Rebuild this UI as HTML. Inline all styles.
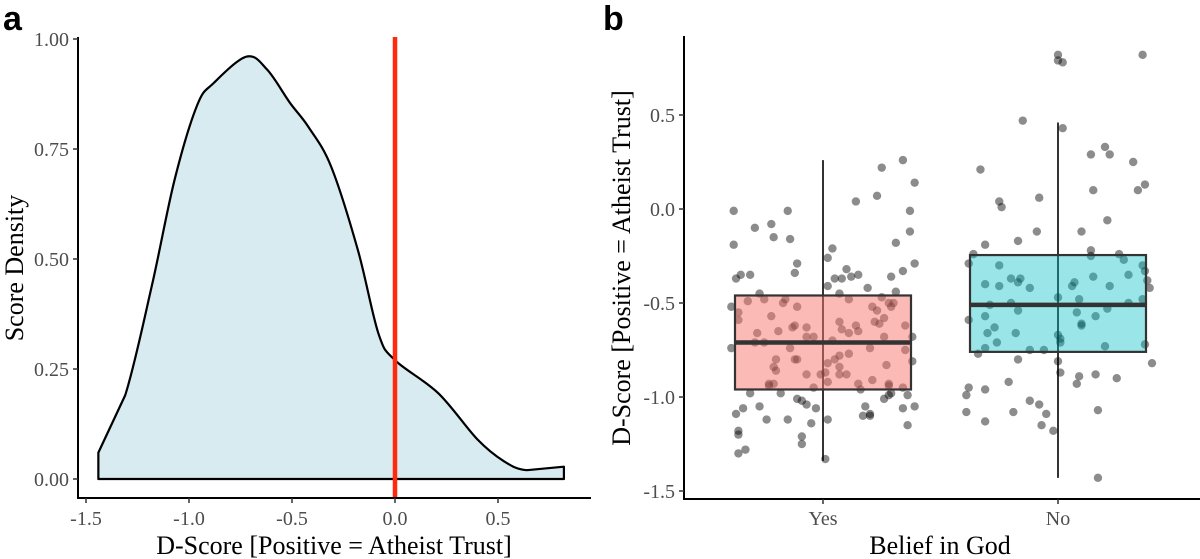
<!DOCTYPE html>
<html><head><meta charset="utf-8"><style>
html,body{margin:0;padding:0;background:#fff}
svg{display:block;font-family:"Liberation Serif",serif}
.tick{font-size:20px;fill:#4d4d4d}
.title{font-size:26px;fill:#000}
.panel{font-family:"Liberation Sans",sans-serif;font-weight:bold;font-size:34px;fill:#000}
</style></head><body>
<svg id="chart" width="1200" height="559" viewBox="0 0 1200 559" xmlns="http://www.w3.org/2000/svg">
<text class="panel" x="3" y="30">a</text>
<text class="panel" x="603" y="30">b</text>
<g id="pa"></g>
<g id="pb"></g>
</svg>
<script>
// Panel a data
const densX=[-1.44,-1.44,-1.31,-1.18,-1.07,-0.96,-0.88,-0.72,-0.62,-0.51,-0.42,-0.31,-0.18,-0.08,0,0.21,0.4,0.53,0.64,0.82,0.82];
const densY=[0,0.06,0.19,0.44,0.68,0.85,0.9,0.96,0.93,0.855,0.8,0.71,0.52,0.33,0.27,0.195,0.09,0.04,0.02,0.028,0];
const aXTicks=[-1.5,-1.0,-0.5,0.0,0.5];
const aXTickLabels=["-1.5","-1.0","-0.5","0.0","0.5"];
const aYTicks=[0,0.25,0.5,0.75,1];
const aYTickLabels=["0.00","0.25","0.50","0.75","1.00"];
const refLine=[0];
// Panel b data
const categories=["Yes","No"];
const boxQ1=[-0.96,-0.76];
const boxMed=[-0.71,-0.51];
const boxQ3=[-0.46,-0.245];
const whiskLo=[-1.34,-1.43];
const whiskHi=[0.26,0.46];
const bYTicks=[-1.5,-1.0,-0.5,0.0,0.5];
const bYTickLabels=["-1.5","-1.0","-0.5","0.0","0.5"];
const yesVals=[-0.01,-0.19,-0.37,-0.35,-0.35,-0.52,-0.55,-0.59,-0.74,-1.09,
-1.18,-1.20,-1.30,-1.28,-1.06,-0.98,-0.10,-0.49,-0.66,-0.45,
-0.48,-0.71,-0.71,-1.05,-1.12,-0.08,-0.15,-0.57,-0.86,-0.84,
-0.93,-0.94,-0.93,-0.98,-0.01,-0.16,-0.34,-0.29,-0.63,-0.62,
-0.74,-0.80,-1.12,-1.01,-1.21,-1.25,-1.02,-1.04,-0.63,-0.68,
-0.88,-0.80,-0.95,-1.06,-1.14,-1.33,-1.12,-0.26,-0.21,-0.41,
-0.37,-0.37,-0.32,-0.45,-0.84,-0.80,-0.88,-0.87,-0.92,-0.70,
-0.78,-0.88,-0.48,-0.60,-0.64,-0.66,-0.77,0.04,-0.36,-0.35,
-0.62,-0.65,-0.93,-1.10,-1.05,-1.10,-1.09,-0.91,-0.74,-0.60,
-0.54,0.07,0.22,-0.47,-0.58,-0.68,-0.83,-0.93,-0.98,-0.99,
-1.01,-0.52,-0.36,-0.18,-0.44,-0.33,0.26,-0.95,-0.75,-1.06,
-1.15,-0.99,-0.01,-0.12,-0.81,-0.68,0.14,-0.29,-1.05,-0.62,
-0.50,-0.50,-0.61,-0.42,-0.52,-0.50,-0.48,-0.65,-0.80,-0.52,
-0.68,-0.88,-0.82,-0.96,-0.94];
const yesJit=[-0.38,-0.38,-0.37,-0.35,-0.31,-0.39,-0.36,-0.36,-0.39,-0.37,
-0.36,-0.36,-0.36,-0.33,-0.34,-0.31,-0.29,-0.32,-0.28,-0.27,
-0.25,-0.29,-0.25,-0.27,-0.24,-0.22,-0.21,-0.22,-0.20,-0.21,
-0.21,-0.23,-0.23,-0.18,-0.15,-0.14,-0.12,-0.11,-0.13,-0.12,
-0.14,-0.12,-0.15,-0.11,-0.09,-0.09,-0.09,-0.07,-0.07,-0.07,
-0.07,-0.11,-0.04,-0.03,-0.05,0.01,0.02,0.02,0.04,0.02,
0.05,0.08,0.10,0.07,0.07,0.05,0.07,0.01,0.02,0.04,
0.07,0.10,0.11,0.07,0.08,0.11,0.11,0.14,0.12,0.15,
0.14,0.15,0.15,0.17,0.18,0.20,0.20,0.21,0.20,0.22,
0.23,0.23,0.25,0.25,0.26,0.26,0.27,0.28,0.29,0.28,
0.26,0.29,0.29,0.31,0.31,0.34,0.34,0.34,0.35,0.34,
0.36,0.36,0.37,0.37,0.38,0.38,0.39,0.39,0.39,0.35,
0.30,0.28,0.24,0.19,0.21,-0.17,-0.16,-0.19,-0.20,-0.11,
-0.04,-0.01,0.02,0.16,0.28];
const noVals=[0.82,0.79,0.78,0.82,0.47,0.43,0.21,0.33,0.29,0.29,
0.25,0.13,0.10,0.10,0.06,0.04,0.01,-0.06,-0.12,-0.12,
-0.19,-0.24,-0.29,-0.17,-0.22,-0.24,-0.30,-0.40,-0.41,-0.37,
-0.37,-0.39,-0.42,-0.41,-0.39,-0.36,-0.41,-0.35,-0.30,-0.33,
-0.38,-0.42,-0.25,-0.27,-0.48,-0.47,-0.50,-0.54,-0.51,-0.57,
-0.59,-0.63,-0.66,-0.66,-0.55,-0.61,-0.57,-0.53,-0.50,-0.48,
-0.62,-0.67,-0.69,-0.71,-0.71,-0.74,-0.77,-0.75,-0.73,-0.72,
-0.80,-0.81,-0.87,-0.75,-0.82,-0.92,-0.95,-0.99,-0.96,-0.89,
-0.93,-0.88,-0.90,-1.02,-1.04,-1.09,-1.15,-1.18,-1.08,-1.08,
-1.13,-1.07,-1.43];
const noJit=[0,0,0.02,0.36,-0.15,0.02,-0.33,0.20,0.14,0.22,
0.32,0.37,0.34,0.15,-0.08,-0.25,-0.24,0.21,-0.09,0.10,
-0.31,-0.36,-0.38,-0.17,0.14,0.26,-0.25,-0.31,-0.25,-0.20,
-0.16,-0.17,-0.12,0.06,0.07,0.15,0.22,0.30,0.36,0.37,
0.38,0.39,0.14,0.28,0.09,0,-0.20,-0.17,-0.29,-0.31,
-0.38,-0.27,-0.30,-0.18,0.08,0.10,0.16,0.21,0.30,0.36,
0.10,0,0.01,0.01,-0.26,-0.31,-0.34,-0.12,0.20,0.37,
-0.17,0,0.01,-0.06,0.40,-0.21,-0.38,-0.39,-0.31,0.09,
0.08,0.16,0.25,-0.12,-0.08,-0.05,-0.07,-0.02,-0.19,-0.39,
-0.31,0.17,0.17];

const NS="http://www.w3.org/2000/svg";
function mk(tag,attrs,parent){const e=document.createElementNS(NS,tag);for(const k in attrs)e.setAttribute(k,attrs[k]);parent.appendChild(e);return e;}

// ---- Panel a ----
const pa=document.getElementById('pa');
const ax=v=>395+(v-0)*206;
const ay=v=>479-v*440;
const pts=densX.map((x,i)=>[ax(x),ay(densY[i])]);
let d="M"+pts[0][0]+","+pts[0][1]+" L"+pts[1][0]+","+pts[1][1];
for(let i=1;i<pts.length-2;i++){
  const p0=pts[i-1],p1=pts[i],p2=pts[i+1],p3=pts[i+2];
  const c1=[p1[0]+(p2[0]-p0[0])/6,p1[1]+(p2[1]-p0[1])/6];
  const c2=[p2[0]-(p3[0]-p1[0])/6,p2[1]-(p3[1]-p1[1])/6];
  if(i===1||i===pts.length-3){d+=" L"+p2[0]+","+p2[1];}
  else d+=` C${c1[0]},${c1[1]} ${c2[0]},${c2[1]} ${p2[0]},${p2[1]}`;
}
d+=" L"+pts[pts.length-1][0]+","+pts[pts.length-1][1]+" Z";
const dp=mk('path',{d:d,fill:'#d7ebf1',stroke:'#000','stroke-width':2.2,'stroke-linejoin':'round'},pa);


refLine.forEach(v=>{
  const l=mk('line',{x1:ax(v),x2:ax(v),y1:37,y2:498,stroke:'#ff2a0d','stroke-width':4.5},pa);
  
  
});
const aAxY=mk('line',{x1:78,x2:78,y1:37,y2:499,stroke:'#000','stroke-width':2},pa);


const aAxX=mk('line',{x1:77,x2:591,y1:498,y2:498,stroke:'#000','stroke-width':2},pa);


aYTicks.forEach((v,i)=>{
  mk('line',{x1:73,x2:78,y1:ay(v),y2:ay(v),stroke:'#333','stroke-width':1.5},pa);
  const t=mk('text',{x:69,y:ay(v)+7,'text-anchor':'end',class:'tick'},pa);t.textContent=aYTickLabels[i];
  
  
});
aXTicks.forEach((v,i)=>{
  mk('line',{x1:ax(v),x2:ax(v),y1:498,y2:503,stroke:'#333','stroke-width':1.5},pa);
  const t=mk('text',{x:ax(v),y:525,'text-anchor':'middle',class:'tick'},pa);t.textContent=aXTickLabels[i];
  
  
});
let t=mk('text',{x:334,y:554,'text-anchor':'middle',class:'title'},pa);t.textContent="D-Score [Positive = Atheist Trust]";


t=mk('text',{x:0,y:0,'text-anchor':'middle',class:'title',transform:'translate(23,268) rotate(-90)'},pa);t.textContent="Score Density";



// ---- Panel b ----
const pb=document.getElementById('pb');
const catX=[823,1058];
const band=235;
const by=v=>209-v*188;
const bAxY=mk('line',{x1:684,x2:684,y1:36,y2:500,stroke:'#000','stroke-width':2},pb);


const bAxX=mk('line',{x1:683,x2:1200,y1:499,y2:499,stroke:'#000','stroke-width':2},pb);


bYTicks.forEach((v,i)=>{
  mk('line',{x1:679,x2:684,y1:by(v),y2:by(v),stroke:'#333','stroke-width':1.5},pb);
  const tt=mk('text',{x:675,y:by(v)+7,'text-anchor':'end',class:'tick'},pb);tt.textContent=bYTickLabels[i];
  
  
});
categories.forEach((c,i)=>{
  mk('line',{x1:catX[i],x2:catX[i],y1:499,y2:504,stroke:'#333','stroke-width':1.5},pb);
  const tt=mk('text',{x:catX[i],y:525,'text-anchor':'middle',class:'tick'},pb);tt.textContent=c;
  
  
});
const fills=['rgba(248,118,109,0.5)','rgba(0,191,196,0.4)'];
const jits=[yesJit,noJit], vals=[yesVals,noVals];
categories.forEach((c,i)=>{
  const cx=catX[i];
  const w=mk('line',{x1:cx,x2:cx,y1:by(whiskHi[i]),y2:by(whiskLo[i]),stroke:'#333','stroke-width':2},pb);
  
  
  const n=Math.min(jits[i].length,vals[i].length);
  for(let k=0;k<n;k++){
    const p=mk('circle',{cx:cx+jits[i][k]*band,cy:by(vals[i][k]),r:4.2,fill:'rgba(0,0,0,0.45)'},pb);
    
    
  }
  const hw=88;
  const r=mk('rect',{x:cx-hw,y:by(boxQ3[i]),width:hw*2,height:by(boxQ1[i])-by(boxQ3[i]),fill:fills[i],stroke:'#333','stroke-width':2.2},pb);
  
  
  const m=mk('line',{x1:cx-hw,x2:cx+hw,y1:by(boxMed[i]),y2:by(boxMed[i]),stroke:'#333','stroke-width':4.5},pb);
  
  
});
t=mk('text',{x:940,y:554,'text-anchor':'middle',class:'title'},pb);t.textContent="Belief in God";


t=mk('text',{x:0,y:0,'text-anchor':'middle',class:'title',transform:'translate(630,268) rotate(-90)'},pb);t.textContent="D-Score [Positive = Atheist Trust]";


</script>
</body></html>
